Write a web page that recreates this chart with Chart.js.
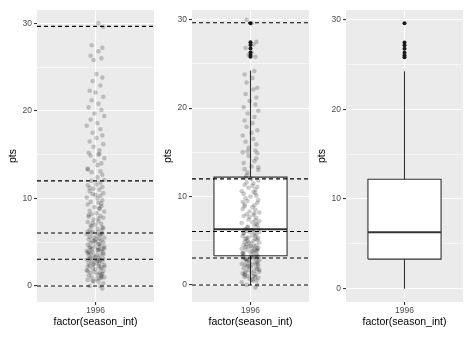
<!DOCTYPE html>
<html>
<head>
<meta charset="utf-8">
<script src="https://cdn.jsdelivr.net/npm/chart.js@4.4.0/dist/chart.umd.min.js"></script>
<style>
    html, body { margin: 0; padding: 0; background: #ffffff; }
    #wrap { position: relative; width: 474px; height: 338px; overflow: hidden; }
    canvas { position: absolute; top: 0; }
</style>
</head>
<body>
<div id="wrap">
    <canvas id="jitterChart" width="158" height="338" style="left:0px"></canvas>
    <canvas id="comboChart" width="158" height="338" style="left:155px"></canvas>
    <canvas id="boxChart" width="158" height="338" style="left:309px"></canvas>
</div>
<script>
// Data
const seasonLabels = ['1996'];
const yTickValues = [0, 5, 10, 15, 20, 25, 30]; // multiples of 10 are labelled, 5s are minor grid

// points per game, one entry per player (jittered points)
const ptsValues = [
    0.0, 0.0, 0.3, 0.5, 0.5, 0.7, 0.8, 0.9, 1.0, 1.0,
    1.2, 1.3, 1.4, 1.5, 1.5, 1.6, 1.7, 1.8, 1.9, 2.0,
    2.0, 2.1, 2.2, 2.3, 2.3, 2.4, 2.5, 2.5, 2.6, 2.7,
    2.8, 2.8, 2.9, 3.0, 3.0, 3.0, 3.1, 3.1, 3.2, 3.2,
    3.3, 1.1, 0.6, 2.2, 1.7, 2.9, -0.3, 3.4, 3.5, 3.5,
    3.6, 3.7, 3.8, 3.9, 4.0, 4.0, 4.1, 4.2, 4.2, 4.3,
    4.4, 4.5, 4.5, 4.6, 4.7, 4.8, 4.9, 5.0, 5.0, 5.1,
    5.2, 5.3, 5.4, 5.5, 5.5, 5.6, 5.7, 5.8, 5.9, 6.0,
    6.0, 6.1, 6.2, 6.3, 4.1, 4.4, 3.6, 5.2, 4.8, 3.9,
    5.9, 6.2, 4.3, 6.4, 6.5, 6.7, 6.8, 7.0, 7.1, 7.3,
    7.4, 7.6, 7.8, 7.9, 8.0, 8.2, 8.3, 8.5, 8.6, 8.8,
    9.0, 9.1, 9.3, 9.5, 9.6, 9.8, 10.0, 10.1, 10.3, 10.5,
    10.6, 10.8, 11.0, 11.1, 11.3, 11.5, 11.6, 11.8, 12.0, 12.1,
    6.9, 7.7, 8.1, 9.4, 10.4, 6.6, 7.2, 8.9, 11.2, 12.4,
    12.7, 13.0, 13.1, 13.4, 13.8, 14.0, 14.3, 14.6, 14.9, 15.0,
    15.2, 15.5, 15.9, 16.2, 16.5, 16.9, 17.2, 17.5, 17.9, 18.3,
    18.6, 19.0, 19.4, 19.7, 20.1, 20.4, 20.8, 21.2, 21.6, 22.1,
    22.3, 22.9, 23.4, 23.8, 24.2, 13.3, 15.1, 25.8, 26.0, 26.3,
    26.8, 27.2, 27.5, 29.6, 30.0, 2.4, 1.3, 3.8, 5.3, 0.9
];

// horizontal jitter of each point (in category units), left panel
const jitterLeft = [
    0.05, -0.06, 0.08, -0.02, 0.03, -0.08, 0.01, 0.06, -0.04, 0.09,
    -0.07, 0.02, 0.07, -0.05, 0.04, -0.01, 0.08, -0.09, 0.00, 0.05,
    -0.03, 0.06, -0.08, 0.03, -0.06, 0.09, -0.02, 0.04, -0.07, 0.01,
    0.07, -0.04, 0.02, -0.09, 0.05, -0.01, 0.08, -0.06, 0.03, -0.05,
    0.00, 0.06, -0.03, 0.09, -0.08, 0.04, 0.07, -0.02, 0.05, -0.07,
    0.01, -0.05, 0.08, -0.03, 0.06, -0.09, 0.02, 0.07, -0.04, 0.03,
    -0.06, 0.09, -0.01, 0.05, -0.08, 0.03, -0.05, 0.08, 0.00, -0.03,
    0.06, -0.07, 0.04, -0.02, 0.09, -0.06, 0.01, 0.05, -0.09, 0.07,
    -0.04, 0.02, -0.08, 0.06, 0.03, -0.05, 0.08, -0.01, 0.04, -0.07,
    0.05, -0.03, 0.09, -0.06, 0.02, 0.07, -0.04, 0.00, 0.06, -0.08,
    0.03, -0.02, 0.08, -0.07, 0.05, -0.04, 0.01, 0.09, -0.06, 0.04,
    -0.01, 0.06, -0.08, 0.03, -0.05, 0.07, 0.02, -0.09, 0.05, -0.03,
    0.08, -0.06, 0.04, -0.02, 0.07, -0.08, 0.01, 0.05, -0.04, 0.09,
    -0.05, 0.03, -0.07, 0.06, 0.00, 0.08, -0.03, 0.04, -0.06, 0.02,
    0.07, -0.04, 0.05, -0.08, 0.02, 0.06, -0.01, 0.09, -0.05, 0.03,
    -0.07, 0.04, -0.02, 0.08, -0.06, 0.01, 0.07, -0.03, 0.05, -0.09,
    0.02, -0.05, 0.09, -0.01, 0.06, -0.07, 0.03, -0.04, 0.08, 0.00,
    -0.06, 0.05, -0.03, 0.07, 0.01, -0.08, 0.04, -0.02, 0.06, -0.05,
    0.03, 0.07, -0.04, 0.08, 0.03, -0.02, 0.06, -0.08, 0.01, 0.04
];

// horizontal jitter of each point, middle panel
const jitterMid = [
    -0.04, 0.07, -0.09, 0.02, 0.06, -0.01, 0.08, -0.06, 0.03, -0.03,
    0.05, -0.08, 0.01, 0.09, -0.05, 0.04, -0.02, 0.07, -0.07, 0.00,
    0.06, -0.03, 0.08, -0.06, 0.02, -0.09, 0.05, -0.01, 0.07, -0.04,
    -0.02, 0.09, -0.05, 0.03, -0.07, 0.06, 0.00, 0.08, -0.08, 0.04,
    0.07, -0.06, 0.02, -0.03, 0.09, -0.04, 0.05, 0.01, -0.07, 0.06,
    -0.08, 0.03, -0.01, 0.07, -0.05, 0.04, -0.09, 0.02, 0.08, -0.02,
    0.04, -0.07, 0.06, -0.04, 0.01, 0.09, -0.06, 0.03, -0.03, 0.07,
    -0.05, 0.08, -0.02, 0.05, -0.08, 0.02, 0.06, -0.07, 0.04, -0.01,
    0.09, -0.04, 0.03, -0.06, 0.07, 0.00, -0.08, 0.05, -0.02, 0.06,
    -0.07, 0.01, -0.05, 0.08, -0.03, 0.04, 0.07, -0.09, 0.02, 0.05,
    -0.02, 0.06, -0.07, 0.03, -0.04, 0.09, -0.01, 0.05, -0.08, 0.02,
    0.04, -0.06, 0.07, -0.03, 0.08, -0.05, 0.00, 0.06, -0.07, 0.03,
    -0.09, 0.05, -0.02, 0.07, -0.06, 0.03, -0.04, 0.08, 0.01, -0.05,
    0.06, -0.01, 0.04, -0.08, 0.05, -0.03, 0.09, -0.06, 0.02, -0.04,
    -0.03, 0.08, -0.06, 0.01, -0.07, 0.04, 0.06, -0.02, 0.07, -0.08,
    0.05, -0.02, 0.06, -0.05, 0.03, -0.08, 0.01, 0.07, -0.04, 0.02,
    -0.06, 0.04, -0.03, 0.08, -0.07, 0.05, -0.01, 0.06, -0.05, 0.03,
    0.07, -0.04, 0.02, -0.06, 0.04, 0.08, -0.03, 0.05, -0.02, 0.01,
    -0.05, 0.03, 0.06, 0.01, -0.04, 0.07, -0.06, 0.02, -0.04, 0.05
];

// dashed reference lines (quantiles of pts)
const quantileLines = [0, 3.05, 6.05, 12.0, 29.65];

// boxplot summary: lower whisker, Q1, median, Q3, upper whisker
const boxStats = [0, 3.3, 6.3, 12.2, 24.25];
const outlierValues = [25.8, 26.0, 26.3, 26.75, 27.15, 27.45, 29.6];

// Look
const X_MIN = -0.6, X_MAX = 0.6;   // discrete axis with one category
const BOX_HALF = 0.375;            // box width 0.75
const DARK = '#333333';

Chart.defaults.font.family = '"Liberation Sans", Arial, sans-serif';
Chart.defaults.color = '#4D4D4D';

// grey panel background
const panelBg = {
    id: 'panelBg',
    beforeDraw(chart) {
        const { ctx, chartArea: a } = chart;
        ctx.save();
        ctx.fillStyle = '#EBEBEB';
        ctx.fillRect(a.left, a.top, a.right - a.left, a.bottom - a.top);
        ctx.restore();
    }
};

const isMajor = (c) => c.tick && c.tick.value % 10 === 0;

function makeScales(yMin, yMax) {
    return {
        x: {
            type: 'linear', min: X_MIN, max: X_MAX,
            afterBuildTicks: (s) => { s.ticks = [{ value: 0 }]; },
            afterFit: (s) => { s.height = 36; },
            ticks: { callback: () => seasonLabels[0], color: '#4D4D4D', font: { size: 8.5 }, padding: 1, maxRotation: 0, autoSkip: false },
            grid: { color: '#ffffff', lineWidth: 1.1, tickColor: DARK, tickLength: 3 },
            border: { display: false },
            title: { display: true, text: 'factor(season_int)', color: '#000000', font: { size: 10.5 }, padding: { top: 1, bottom: 10 } }
        },
        y: {
            type: 'linear', min: yMin, max: yMax,
            afterBuildTicks: (s) => { s.ticks = yTickValues.map(v => ({ value: v })); },
            afterFit: (s) => { s.width = 37; },
            ticks: { callback: (v) => (v % 10 === 0 ? String(v) : ''), color: '#4D4D4D', font: { size: 8.5 }, padding: 2, autoSkip: false },
            grid: {
                color: '#ffffff',
                lineWidth: (c) => (isMajor(c) ? 1.1 : 0.55),
                tickColor: (c) => (isMajor(c) ? DARK : 'rgba(0,0,0,0)'),
                tickLength: 3
            },
            border: { display: false },
            title: { display: true, text: 'pts', color: '#000000', font: { size: 10.5 }, padding: { top: 7, bottom: 0 } }
        }
    };
}

function jitterSet(xs) {
    return {
        type: 'scatter',
        data: ptsValues.map((v, i) => ({ x: xs[i], y: v })),
        backgroundColor: 'rgba(0,0,0,0.2)',
        borderWidth: 0,
        pointRadius: 2.3,
        order: 2
    };
}

function hlineSets() {
    return quantileLines.map(v => ({
        type: 'line',
        data: [{ x: X_MIN, y: v }, { x: X_MAX, y: v }],
        borderColor: '#000000',
        borderWidth: 1.1,
        borderDash: [4, 3],
        pointRadius: 0,
        fill: false,
        order: 0
    }));
}

function boxSets() {
    const [lo, q1, med, q3, hi] = boxStats;
    const seg = (pts, width, order) => ({
        type: 'line', data: pts, borderColor: DARK, borderWidth: width,
        pointRadius: 0, fill: false, order: order
    });
    return [
        // white box fill
        {
            type: 'line',
            data: [{ x: -BOX_HALF, y: q3 }, { x: BOX_HALF, y: q3 }],
            fill: { value: q1 },
            backgroundColor: '#ffffff',
            borderColor: 'rgba(0,0,0,0)',
            borderWidth: 0,
            pointRadius: 0,
            order: 6
        },
        seg([{ x: 0, y: q3 }, { x: 0, y: hi }], 1.1, 5),
        seg([{ x: 0, y: lo }, { x: 0, y: q1 }], 1.1, 5),
        seg([{ x: -BOX_HALF, y: q1 }, { x: BOX_HALF, y: q1 }, { x: BOX_HALF, y: q3 },
             { x: -BOX_HALF, y: q3 }, { x: -BOX_HALF, y: q1 }], 1.1, 4),
        seg([{ x: -BOX_HALF, y: med }, { x: BOX_HALF, y: med }], 2.1, 3),
        {
            type: 'scatter',
            data: outlierValues.map(v => ({ x: 0, y: v })),
            backgroundColor: '#1A1A1A',
            borderWidth: 0,
            pointRadius: 2,
            order: 1
        }
    ];
}

function renderPanel(id, datasets, yMin, yMax) {
    const ctx = document.getElementById(id).getContext('2d');
    return new Chart(ctx, {
        type: 'scatter',
        data: { datasets: datasets },
        options: {
            responsive: false,
            animation: false,
            events: [],
            layout: { padding: { top: 10, right: 4, left: 0, bottom: 0 } },
            plugins: { legend: { display: false }, tooltip: { enabled: false } },
            scales: makeScales(yMin, yMax)
        },
        plugins: [panelBg]
    });
}

renderPanel('jitterChart', [jitterSet(jitterLeft), ...hlineSets()], -1.83, 31.52);
renderPanel('comboChart', [...boxSets(), jitterSet(jitterMid), ...hlineSets()], -1.93, 31.1);
renderPanel('boxChart', boxSets(), -1.48, 31.08);
</script>
</body>
</html>
